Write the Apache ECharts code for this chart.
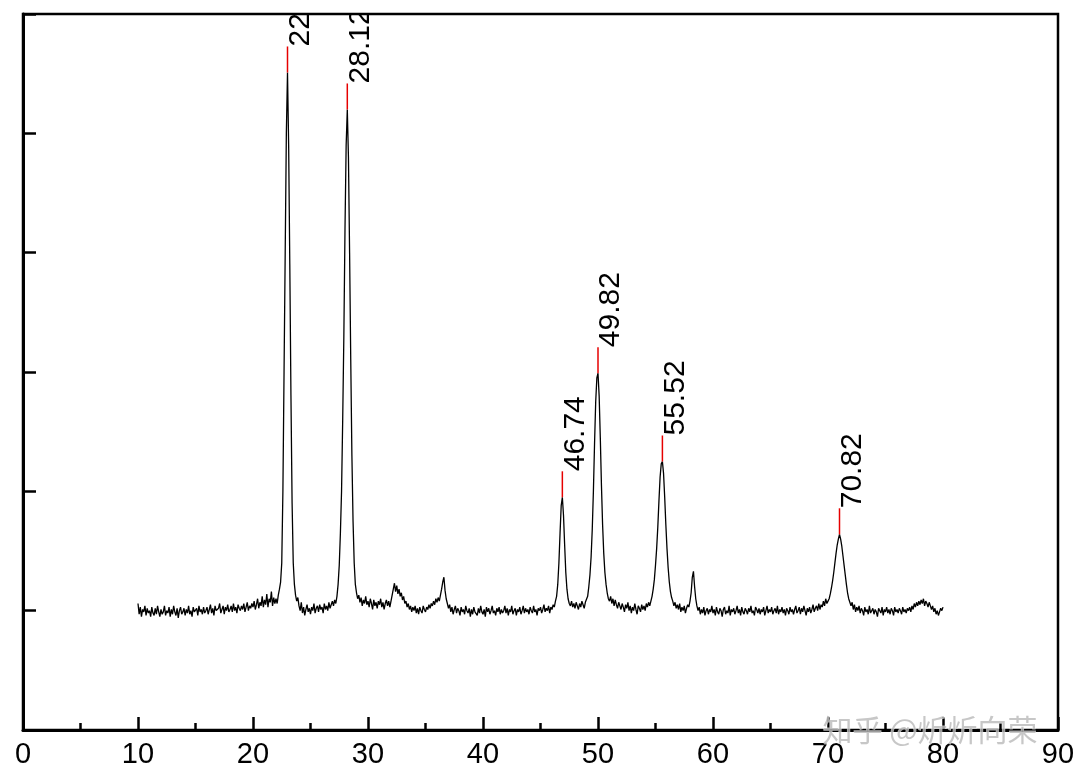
<!DOCTYPE html>
<html>
<head>
<meta charset="utf-8">
<script src="https://cdn.jsdelivr.net/npm/echarts@6/dist/echarts.min.js"></script>
<style>html,body{margin:0;padding:0;background:#fff;}#chart{width:1080px;height:771px;}</style>
</head>
<body>
<div id="chart"></div>
<script>
// 2θ scan: start angle and step (degrees)
const twoThetaStart = 10;
const twoThetaStep = 0.1;
// intensity (a.u.), one row per degree, 10.0 ... 80.0
const intensity = [
106, 97, 103, 95, 101, 99, 104, 96, 102, 98,
100, 95, 103, 98, 96, 102, 97, 104, 99, 95,
101, 97, 99, 104, 96, 100, 98, 103, 95, 101,
97, 104, 99, 96, 102, 94, 100, 103, 97, 99,
102, 96, 101, 98, 104, 97, 100, 95, 103, 99,
98, 102, 96, 104, 99, 101, 97, 103, 98, 100,
103, 97, 101, 105, 98, 102, 96, 104, 100, 99,
102, 106, 98, 101, 104, 97, 103, 100, 105, 99,
101, 104, 99, 106, 100, 103, 98, 105, 102, 100,
104, 101, 106, 99, 103, 107, 100, 104, 102, 106,
103, 108, 101, 105, 110, 102, 107, 104, 112, 103,
109, 105, 114, 103, 110, 107, 116, 104, 111, 106,
110, 106, 113, 118, 124, 140, 200, 300, 400, 500,
551, 490, 390, 280, 190, 140, 122, 113, 108, 111,
104, 100, 107, 98, 103, 96, 101, 105, 99, 102,
97, 103, 100, 106, 98, 102, 104, 99, 105, 101,
103, 98, 106, 101, 104, 100, 107, 102, 105, 108,
104, 109, 106, 112, 122, 138, 165, 200, 260, 330,
420, 490, 520, 480, 400, 310, 230, 175, 140, 122,
115, 110, 113, 107, 111, 104, 109, 106, 112, 105,
108, 103, 110, 106, 101, 109, 104, 107, 102, 108,
105, 110, 103, 107, 101, 106, 109, 104, 108, 103,
108, 113, 118, 123, 116, 121, 114, 118, 112, 115,
109, 112, 106, 108, 103, 106, 101, 104, 99, 103,
100, 104, 98, 102, 97, 103, 100, 98, 104, 101,
99, 103, 101, 105, 102, 106, 104, 108, 105, 110,
107, 111, 108, 113, 118, 124, 128, 117, 110, 106,
102, 105, 99, 103, 97, 101, 104, 98, 102, 100,
96, 103, 99, 101, 97, 104, 100, 98, 102, 95,
101, 97, 103, 99, 100, 96, 102, 98, 104, 99,
97, 101, 95, 103, 99, 102, 97, 100, 104, 98,
100, 96, 102, 99, 103, 97, 101, 98, 100, 104,
98, 102, 96, 101, 99, 104, 97, 100, 102, 96,
101, 99, 103, 97, 100, 104, 98, 102, 99, 101,
97, 103, 100, 98, 104, 99, 101, 96, 102, 100,
103, 98, 101, 105, 99, 102, 100, 104, 98, 103,
101, 105, 103, 108, 112, 122, 140, 165, 188, 195,
180, 155, 132, 118, 110, 106, 104, 108, 103, 106,
102, 107, 104, 101, 106, 103, 108, 105, 102, 107,
108, 112, 120, 130, 145, 168, 200, 240, 275, 295,
299, 280, 245, 205, 172, 148, 132, 122, 115, 110,
108, 112, 106, 110, 104, 109, 105, 102, 107, 104,
101, 106, 103, 99, 105, 102, 107, 100, 104, 98,
103, 100, 106, 101, 97, 104, 102, 99, 105, 101,
104, 100, 106, 103, 107, 104, 108, 112, 118, 126,
138, 152, 170, 192, 212, 223, 225, 215, 195, 172,
152, 136, 124, 116, 111, 108, 104, 107, 102, 105,
101, 106, 99, 103, 100, 104, 98, 102, 105, 103,
108, 115, 128, 133, 120, 110, 104, 100, 103, 97,
101, 98, 103, 96, 100, 102, 97, 101, 99, 104,
98, 101, 96, 103, 99, 97, 102, 100, 95, 101,
103, 97, 100, 98, 104, 96, 101, 99, 102, 97,
100, 104, 98, 101, 96, 103, 99, 97, 102, 100,
97, 102, 99, 104, 98, 100, 96, 103, 101, 98,
102, 97, 101, 99, 103, 96, 100, 104, 98, 101,
99, 103, 97, 100, 102, 98, 104, 97, 101, 99,
103, 98, 101, 96, 102, 100, 97, 103, 99, 101,
97, 101, 104, 98, 100, 103, 97, 102, 99, 104,
100, 96, 102, 99, 103, 98, 101, 105, 99, 102,
104, 100, 106, 101, 105, 103, 108, 104, 110, 106,
108, 110, 114, 119, 125, 132, 140, 148, 155, 160,
164, 160, 154, 146, 138, 130, 122, 115, 110, 107,
104, 107, 101, 105, 99, 103, 100, 104, 98, 102,
100, 96, 103, 99, 101, 97, 104, 98, 100, 102,
97, 101, 99, 95, 102, 100, 98, 103, 96, 101,
99, 103, 98, 101, 97, 102, 100, 96, 103, 99,
101, 98, 102, 100, 97, 103, 99, 101, 98, 102,
100, 103, 99, 104, 101, 106, 103, 107, 104, 108,
105, 109, 106, 110, 104, 108, 106, 103, 107, 104,
101, 104, 99, 102, 97, 100, 96, 99, 102, 100,
103
];
// labelled peaks
const peakPos = [23.0, 28.2, 46.9, 50.0, 55.6, 71.0];
const peakTop = [551, 520, 195, 299, 225, 164];
const peakLabels = ['22', '28.12', '46.74', '49.82', '55.52', '70.82'];
// x axis tick labels
const xTicks = ['0', '10', '20', '30', '40', '50', '60', '70', '80', '90'];

const lineData = intensity.map((v, i) => [+(twoThetaStart + i * twoThetaStep).toFixed(2), v]);
const peakData = peakPos.map((x, i) => [x, peakTop[i]]);

const chart = echarts.init(document.getElementById('chart'), null, {renderer: 'canvas'});
chart.setOption({
  animation: false,
  backgroundColor: '#fff',
  grid: {left: 23, right: 22, top: 14, bottom: 41, show: true, borderColor: '#000', borderWidth: 2.5, backgroundColor: 'transparent'},
  xAxis: {
    type: 'value', min: 0, max: 90, interval: 10,
    axisLine: {lineStyle: {color: '#000', width: 3}},
    axisTick: {inside: true, length: 13, lineStyle: {color: '#000', width: 2.5}},
    minorTick: {show: true, splitNumber: 2, length: 7, lineStyle: {color: '#000', width: 2.5}},
    splitLine: {show: false},
    axisLabel: {
      margin: 10, color: '#000', fontSize: 29, fontFamily: 'Liberation Sans',
      formatter: (v) => xTicks[Math.round(v / 10)]
    }
  },
  yAxis: {
    type: 'value', min: 0, max: 600, interval: 100,
    axisLine: {show: true, lineStyle: {color: '#000', width: 3}},
    axisTick: {show: true, inside: true, length: 13, lineStyle: {color: '#000', width: 2.5}},
    axisLabel: {show: false},
    splitLine: {show: false}
  },
  series: [
    {
      type: 'line', data: lineData, showSymbol: false, symbol: 'none',
      lineStyle: {color: '#000', width: 1.3}, sampling: null, z: 2
    },
    {
      type: 'custom', data: peakData, clip: true, z: 3,
      renderItem: (params, api) => {
        const p = api.coord([api.value(0), api.value(1)]);
        const len = 26;
        return {
          type: 'group',
          children: [
            {type: 'line', shape: {x1: p[0], y1: p[1], x2: p[0], y2: p[1] - len},
             style: {stroke: '#e60000', lineWidth: 1.5}},
            {type: 'text', x: p[0] - 2, y: p[1] - len, rotation: Math.PI / 2,
             style: {text: peakLabels[params.dataIndex], fontSize: 30, fontFamily: 'Liberation Sans',
                     fill: '#000', align: 'left', verticalAlign: 'top'}}
          ]
        };
      }
    }
  ],
  graphic: [
    {type: 'text', left: 822, top: 714, z: 100,
     style: {text: '知乎 @炘炘向荣', fontSize: 30, fontFamily: 'Noto Sans CJK SC',
             fill: 'rgba(185,185,185,0.8)', stroke: 'rgba(255,255,255,0.6)', lineWidth: 1}}
  ]
});
</script>
</body>
</html>
